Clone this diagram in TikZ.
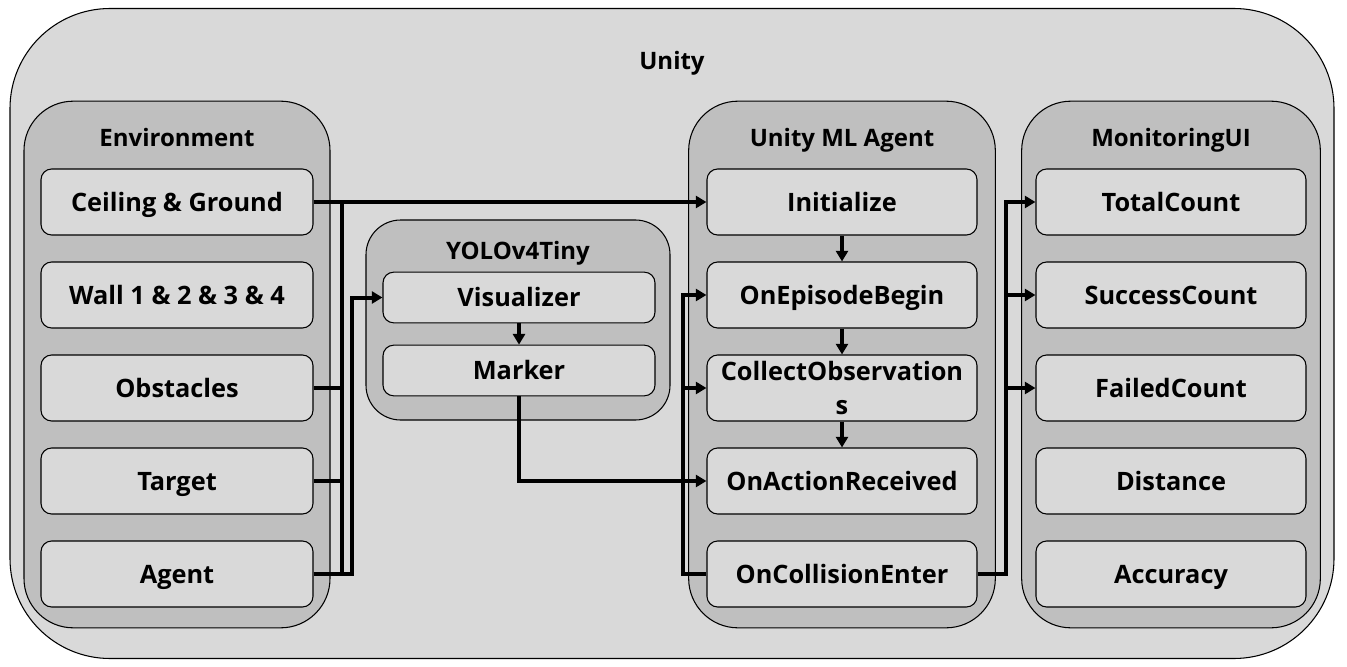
\documentclass[tikz,border=0pt]{standalone}
\usepackage{fontspec}
\setmainfont{Open Sans}
\usepackage{tikz}
\usetikzlibrary{arrows.meta}
\definecolor{lightgrey}{HTML}{D9D9D9}
\definecolor{midgrey}{HTML}{BFBFBF}
\tikzset{
  outer/.style={draw, fill=lightgrey, line width=0.8pt, rounded corners=75pt, inner sep=0pt},
  grp/.style={draw, fill=midgrey, line width=0.8pt, rounded corners=37pt, inner sep=0pt},
  box/.style={draw, fill=lightgrey, line width=0.8pt, rounded corners=8pt, inner sep=0pt,
    minimum width=204pt, minimum height=49.5pt, align=center,
    text height=13.6pt, text depth=0pt,
    font=\fontsize{19}{25}\selectfont\bfseries},
  ttl/.style={font=\fontsize{18}{22}\selectfont\bfseries, inner sep=0pt,
    text height=12.9pt, text depth=0pt},
  line/.style={line width=3pt},
  conn/.style={line width=3pt, -{Triangle[length=8pt, width=9pt]}}
}
\begin{document}
\begin{tikzpicture}[x=0.75pt, y=-0.75pt]
\useasboundingbox (0,0) rectangle (1347,667);
%% frames
\node[outer, minimum width=993pt, minimum height=487.5pt] (unity) at (672,333.5) {};
\node[ttl] (unitytitle) at (672,61) {Unity};
\node[grp, minimum width=229.5pt, minimum height=395pt] (env) at (177,364.5) {};
\node[ttl] (envtitle) at (177,137.5) {Environment};
\node[grp, minimum width=228pt, minimum height=150pt, rounded corners=26pt] (yolo) at (518,320) {};
\node[ttl] (yolotitle) at (518,251) {YOLOv4Tiny};
\node[grp, minimum width=230pt, minimum height=395pt] (mla) at (842,364.5) {};
\node[ttl] (mlatitle) at (842,137.5) {Unity ML Agent};
\node[grp, minimum width=224pt, minimum height=395pt] (mon) at (1171,364.5) {};
\node[ttl] (montitle) at (1171,137.5) {MonitoringUI};
%% environment
\node[box] (ceil) at (177,202) {Ceiling \& Ground};
\node[box] (wall) at (177,295) {Wall 1 \& 2 \& 3 \& 4};
\node[box] (obst) at (177,388) {Obstacles};
\node[box] (targ) at (177,481) {Target};
\node[box] (agent) at (177,574) {Agent};
%% yolo
\node[box, minimum height=38pt] (vis) at (519,297.5) {Visualizer};
\node[box, minimum height=38pt] (mark) at (519,370.5) {Marker};
%% ml agent
\node[box, minimum width=202.5pt] (init) at (842,202) {Initialize};
\node[box, minimum width=202.5pt] (oeb) at (842,295) {OnEpisodeBegin};
\node[box, minimum width=202.5pt, text height={}, text depth={}] (cobs) at (842,388) {CollectObservation\\s};
\node[box, minimum width=202.5pt] (oar) at (842,481) {OnActionReceived};
\node[box, minimum width=202.5pt] (oce) at (842,574) {OnCollisionEnter};
%% monitoring
\node[box, minimum width=202.5pt] (tot) at (1171,202) {TotalCount};
\node[box, minimum width=202.5pt] (succ) at (1171,295) {SuccessCount};
\node[box, minimum width=202.5pt] (fail) at (1171,388) {FailedCount};
\node[box, minimum width=202.5pt] (dist) at (1171,481) {Distance};
\node[box, minimum width=202.5pt] (acc) at (1171,574) {Accuracy};
%% connectors
\coordinate (busA) at (342,202);
\coordinate (busB) at (352,297.5);
\coordinate (busC) at (683,295);
\coordinate (busD) at (1006,202);
\draw[conn] (ceil.east) -- (init.west);
\draw[line] (agent.east) -| (busA);
\draw[line] (obst.east) -- (obst.east -| busA);
\draw[line] (targ.east) -- (targ.east -| busA);
\draw[conn] (agent.east) -| (busB) -- (vis.west);
\draw[conn] (vis.south) -- (mark.north);
\draw[conn] (mark.south) |- (oar.west);
\draw[conn] (init.south) -- (oeb.north);
\draw[conn] (oeb.south) -- (cobs.north);
\draw[conn] (cobs.south) -- (oar.north);
\draw[conn] (oce.west) -| (busC) -- (oeb.west);
\draw[conn] (cobs.west -| busC) -- (cobs.west);
\draw[conn] (oce.east) -| (busD) -- (tot.west);
\draw[conn] (succ.west -| busD) -- (succ.west);
\draw[conn] (fail.west -| busD) -- (fail.west);
\end{tikzpicture}
\end{document}
